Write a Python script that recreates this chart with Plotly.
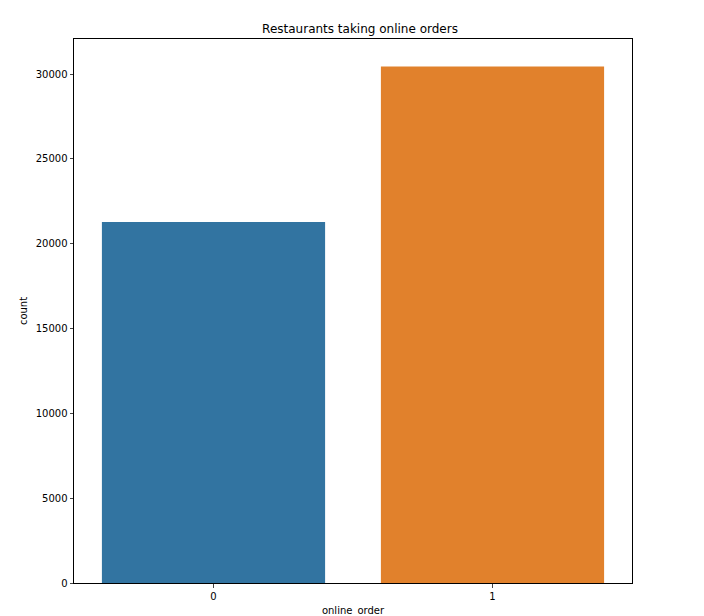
import plotly.graph_objects as go

categories = ["0", "1"]
counts = [21273, 30444]
colors = ["#3274a1", "#e1812c"]
ytick_vals = [0, 5000, 10000, 15000, 20000, 25000, 30000]

fig = go.Figure(go.Bar(x=[0, 1], y=counts, marker=dict(color=colors, line=dict(width=0)), width=0.8))
fig.update_layout(
    width=704, height=616, plot_bgcolor="white", paper_bgcolor="white",
    margin=dict(l=66, r=80, t=31, b=41),
    font=dict(family="DejaVu Sans", size=10, color="black"),
    title=dict(text="Restaurants taking online orders", x=0.5, xanchor="center", y=1-21/616, yanchor="middle", font=dict(size=12)),
    showlegend=False, bargap=0.2,
)
fig.update_xaxes(tickvals=[0, 1], ticktext=categories, range=[-0.5, 1.5], showline=True, linecolor="black", linewidth=1, mirror=True,
                 ticks="outside", ticklen=3.5, showgrid=False, automargin=False,
                 title=dict(text="online_order", standoff=6, font=dict(size=10)))
fig.update_yaxes(range=[0, 32063], tickvals=ytick_vals, ticktext=[str(v) for v in ytick_vals], showline=True, linecolor="black", linewidth=1,
                 mirror=True, ticks="outside", ticklen=3.5, showgrid=False, zeroline=False, automargin=False,
                 title=dict(text="count", standoff=6, font=dict(size=10)))
fig.write_html("out.html")
